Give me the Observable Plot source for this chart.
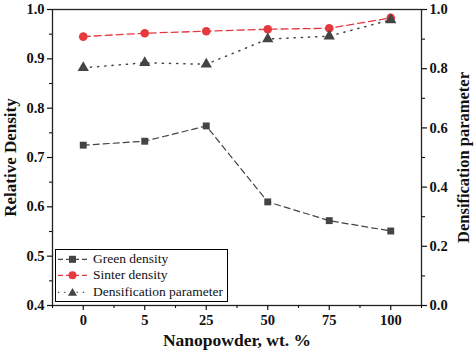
<!DOCTYPE html>
<html><head><meta charset="utf-8">
<script src="https://cdn.jsdelivr.net/npm/d3@7"></script>
<script src="https://cdn.jsdelivr.net/npm/@observablehq/plot@0.6"></script>
<style>
body{margin:0;background:#fff;}
#wrap{position:relative;width:474px;height:353px;font-family:'Liberation Serif','Times New Roman',serif;}
#wrap svg text{font-family:'Liberation Serif','Times New Roman',serif;}
#legend{position:absolute;left:55px;top:249px;width:171px;border:1.5px solid #000;background:#fff;font-size:13.5px;line-height:16.5px;color:#111;white-space:nowrap;padding:0.5px 0;}
#legend .row{display:flex;align-items:center;height:16.5px;}
#legend svg{flex:none;margin-left:1px;margin-right:3px;}
</style></head>
<body><div id="wrap"><div id="legend"></div></div>
<script>
const categories = ["0", "5", "25", "50", "75", "100"];
const greenDensity = [0.725, 0.733, 0.764, 0.610, 0.572, 0.551];
const sinterDensity = [0.945, 0.952, 0.956, 0.960, 0.962, 0.983];
const densificationParameter = [0.803, 0.820, 0.815, 0.900, 0.910, 0.965];
const leftTicks = [0.4, 0.5, 0.6, 0.7, 0.8, 0.9, 1.0];
const rightTicks = [0.0, 0.2, 0.4, 0.6, 0.8, 1.0];
const seriesNames = ["Green density", "Sinter density", "Densification parameter"];

const red = "#e5383f", dark = "#444";
const toLeft = d => 0.4 + 0.6 * d;
const fromLeft = v => (v - 0.4) / 0.6;

const green = categories.map((c, i) => ({i, v: greenDensity[i]}));
const sinter = categories.map((c, i) => ({i, v: sinterDensity[i]}));
const dens = categories.map((c, i) => ({i, v: toLeft(densificationParameter[i])}));

const leftMinor = d3.range(0.45, 1.0, 0.1);
const rightMinor = [0.1, 0.3, 0.5, 0.7, 0.9].map(toLeft);
const xMinor = d3.range(-0.5, 5.6, 1);

const ff = "'Liberation Serif', 'Times New Roman', serif";
const tickText = {fontSize: 14.5, fontWeight: "bold", fontFamily: ff, label: null};
const chart = Plot.plot({
  width: 474, height: 353,
  marginLeft: 52, marginRight: 53, marginTop: 9, marginBottom: 48,
  style: {fontFamily: ff, fontSize: "14px", fontWeight: "bold", color: "#111", background: "#fff"},
  x: {domain: [-0.5, 5.5], axis: null},
  y: {domain: [0.4, 1.0], axis: null},
  marks: [
    Plot.frame({stroke: "#222", strokeWidth: 1.3}),
    Plot.axisX(d3.range(6), {tickSize: 5, tickPadding: 4, tickFormat: i => categories[i], strokeWidth: 1.2, ...tickText}),
    Plot.axisX(xMinor, {tickSize: 3, tickFormat: () => "", strokeWidth: 1.1, label: null}),
    Plot.axisY(leftTicks, {anchor: "left", tickSize: 5, tickPadding: 3, tickFormat: d => d.toFixed(1), strokeWidth: 1.2, ...tickText}),
    Plot.axisY(leftMinor, {anchor: "left", tickSize: 3, tickFormat: () => "", strokeWidth: 1.1, label: null}),
    Plot.axisY(rightTicks.map(toLeft), {anchor: "right", tickSize: 5, tickPadding: 3, tickFormat: d => fromLeft(d).toFixed(1), strokeWidth: 1.2, ...tickText}),
    Plot.axisY(rightMinor, {anchor: "right", tickSize: 3, tickFormat: () => "", strokeWidth: 1.1, label: null}),
    Plot.text(["Relative Density"], {frameAnchor: "left", dx: -42, rotate: -90, textAnchor: "middle", lineAnchor: "middle", fontSize: 17, fontWeight: "bold", fontFamily: ff}),
    Plot.text(["Densification parameter"], {frameAnchor: "right", dx: 42, rotate: -90, textAnchor: "middle", lineAnchor: "middle", fontSize: 16.5, fontWeight: "bold", fontFamily: ff}),
    Plot.text(["Nanopowder, wt. %"], {frameAnchor: "bottom", dy: 35, textAnchor: "middle", lineAnchor: "middle", fontSize: 17.5, fontWeight: "bold", fontFamily: ff}),
    Plot.line(green, {x: "i", y: "v", stroke: dark, strokeWidth: 1.2, strokeDasharray: "6,4"}),
    Plot.line(sinter, {x: "i", y: "v", stroke: red, strokeWidth: 1.3, strokeDasharray: "7,4"}),
    Plot.line(dens, {x: "i", y: "v", stroke: dark, strokeWidth: 1.5, strokeDasharray: "1.2,6", strokeLinecap: "round"}),
    Plot.dot(green, {x: "i", y: "v", symbol: "square", r: 3.9, fill: dark, stroke: "none"}),
    Plot.dot(sinter, {x: "i", y: "v", symbol: "circle", r: 4.3, fill: red, stroke: "none"}),
    Plot.dot(dens, {x: "i", y: "v", symbol: "triangle", r: 4.2, fill: dark, stroke: "none"})
  ]
});
document.getElementById("wrap").prepend(chart);

const leg = document.getElementById("legend");
const styles = [
  {stroke: dark, dash: "5,3", sym: '<rect x="12" y="4.8" width="7" height="7" fill="' + dark + '"/>'},
  {stroke: red, dash: "5,3", sym: '<circle cx="15.5" cy="8.3" r="4" fill="' + red + '"/>'},
  {stroke: dark, dash: "1.2,5", sym: '<path d="M15.5,4 L20,11.8 L11,11.8 Z" fill="' + dark + '"/>'}
];
seriesNames.forEach((name, k) => {
  const s = styles[k];
  const row = document.createElement("div");
  row.className = "row";
  row.innerHTML = '<svg width="33" height="16.5"><line x1="1" x2="32" y1="8.3" y2="8.3" stroke="' + s.stroke + '" stroke-width="1.2" stroke-dasharray="' + s.dash + '"/>' + s.sym + '</svg><span>' + name + '</span>';
  leg.appendChild(row);
});
</script>
</body></html>
